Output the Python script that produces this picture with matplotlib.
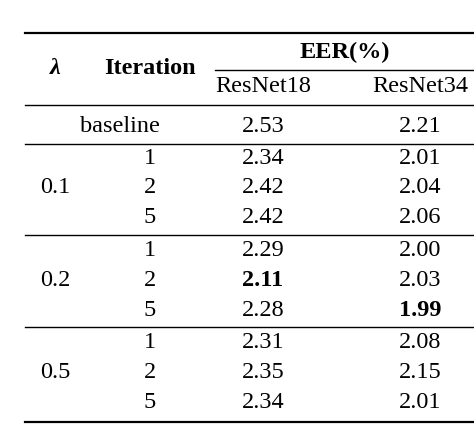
import matplotlib.pyplot as plt
from matplotlib.lines import Line2D

lambdas = ["0.1", "0.2", "0.5"]
iterations = ["1", "2", "5"]
baseline = ["2.53", "2.21"]
resnet18 = [["2.34", "2.42", "2.42"], ["2.29", "2.11", "2.28"], ["2.31", "2.35", "2.34"]]
resnet34 = [["2.01", "2.04", "2.06"], ["2.00", "2.03", "1.99"], ["2.08", "2.15", "2.01"]]
best = {(1, 1, 0), (1, 2, 1)}  # (group, row, col) in bold

W, H = 474, 426
fig = plt.figure(figsize=(W / 100, H / 100), dpi=100)
plt.rcParams["font.family"] = ["Liberation Serif", "DejaVu Serif"]
FS = 17.5


def txt(x, y, s, **kw):
    fig.text(x / W, 1 - y / H, s, ha="center", va="center", fontsize=FS, **kw)


def hline(y, x0=25, x1=474, lw=1.0):
    fig.add_artist(Line2D([x0 / W, x1 / W], [1 - y / H, 1 - y / H], color="black", lw=lw))


xl, xi, x1, x2 = 55, 150, 263, 420
hline(33, lw=1.6)
txt(xl, 69, "λ", fontweight="bold", fontstyle="italic")
txt(xi, 69, "Iteration", fontweight="bold")
txt(345, 52, "EER(%)", fontweight="bold")
hline(70, x0=215, lw=1.0)
txt(x1, 87, "ResNet18")
txt(x2, 87, "ResNet34")
hline(105)
txt(120, 127, "baseline")
txt(x1, 127, baseline[0])
txt(x2, 127, baseline[1])
hline(144)

starts = [158, 250, 342]
for g, lam in enumerate(lambdas):
    y0 = starts[g]
    txt(xl, y0 + 30, lam)
    for r, it in enumerate(iterations):
        y = y0 + 30 * r
        txt(xi, y, it)
        for c, vals in enumerate([resnet18, resnet34]):
            w = "bold" if (g, r, c) in best else "normal"
            txt([x1, x2][c], y, vals[g][r], fontweight=w)
    if g < 2:
        hline(y0 + 77)
hline(422, lw=1.6)

fig.savefig("out.png", dpi=100)
